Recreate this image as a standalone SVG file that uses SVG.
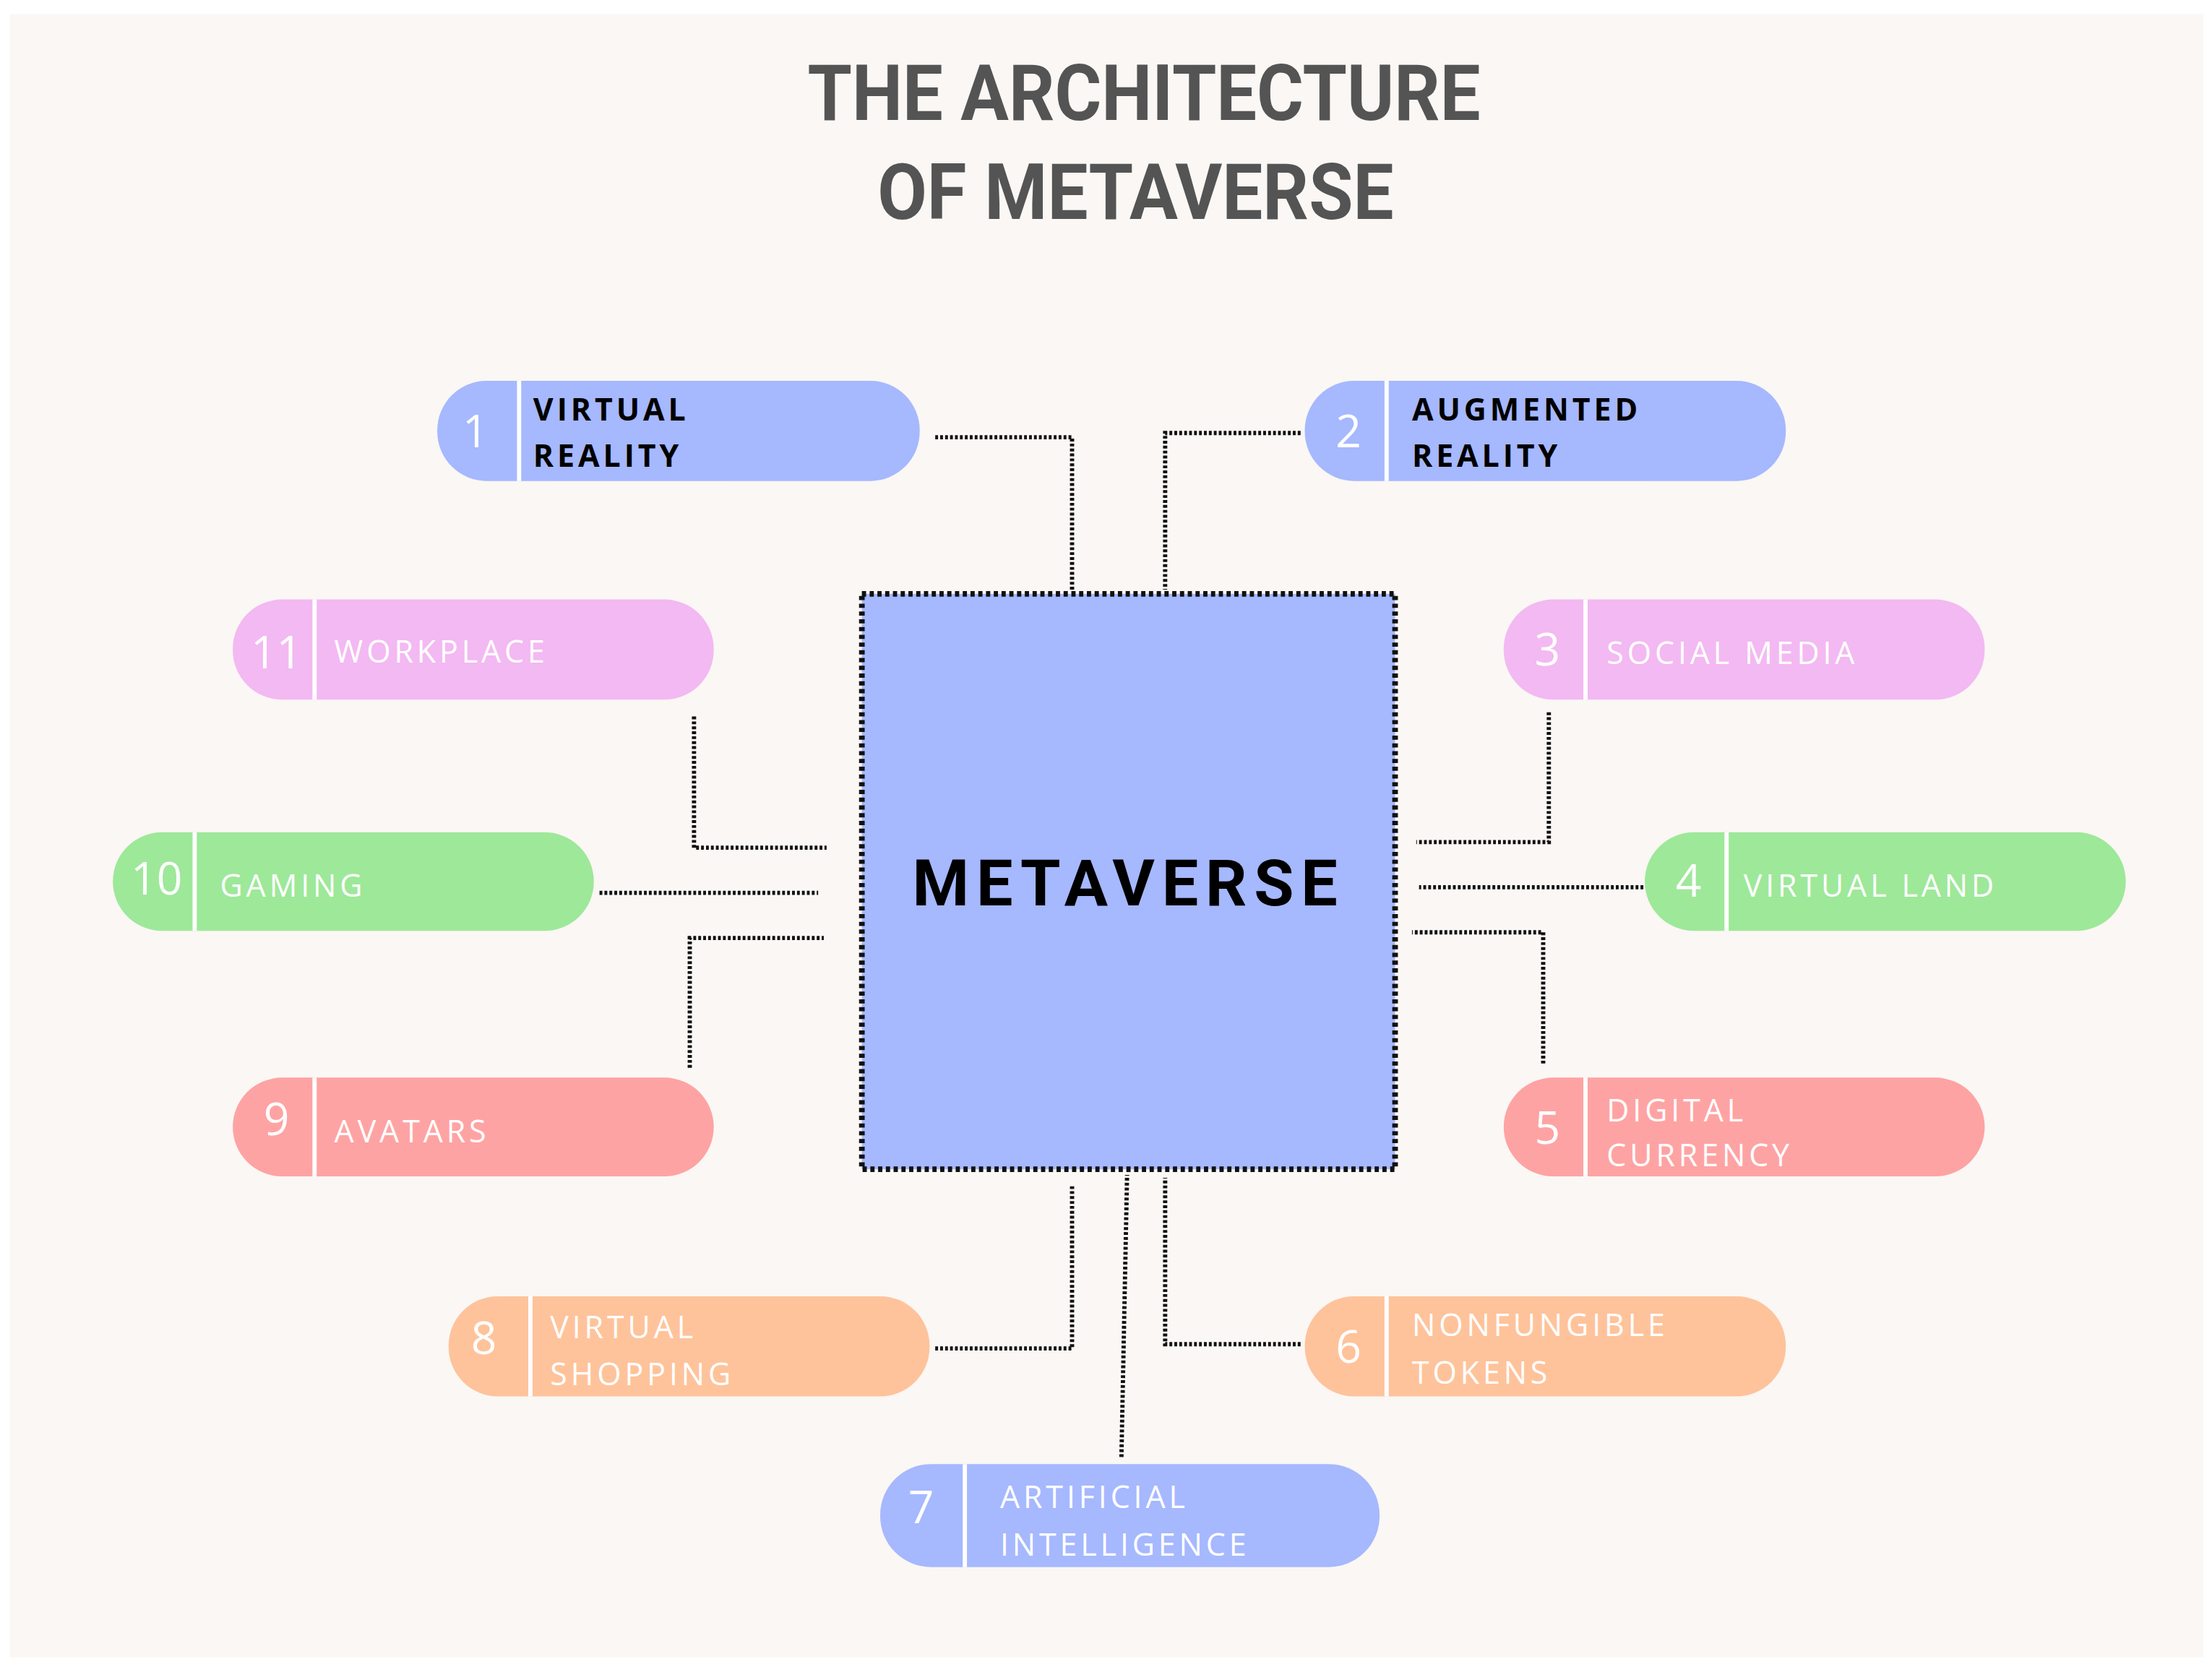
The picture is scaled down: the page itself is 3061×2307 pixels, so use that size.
<svg xmlns="http://www.w3.org/2000/svg" width="3061" height="2307" viewBox="0 0 3061 2307">
<style>
.t{font-family:Roboto,"Liberation Sans",sans-serif;font-weight:700;fill:#545454;font-size:55px;text-anchor:middle}
.lb{font-family:"Open Sans","Liberation Sans",sans-serif;font-size:22px;letter-spacing:2.5px;fill:#fff}
.lk{font-family:"Open Sans","Liberation Sans",sans-serif;font-size:22px;letter-spacing:2.5px;fill:#000;font-weight:700}
.n{font-family:"Open Sans","Liberation Sans",sans-serif;font-size:32px;fill:#fff;text-anchor:middle}
.dv{stroke:#fff;stroke-width:3}
.c{fill:none;stroke:#111;stroke-width:3;stroke-dasharray:2 1.5}
.blue{fill:#a6b8fe}.pink{fill:#f3b9f2}.green{fill:#9ee89a}.red{fill:#fea3a3}.orange{fill:#fec39b}
</style>
<rect width="3061" height="2307" fill="#fff"/>
<g transform="scale(1.952)">
<rect x="7" y="10" width="1555" height="1165" fill="#faf7f4"/>
<text class="t" x="811" y="85" textLength="477" lengthAdjust="spacingAndGlyphs">THE ARCHITECTURE</text>
<text class="t" x="805" y="155" textLength="366" lengthAdjust="spacingAndGlyphs">OF METAVERSE</text>
<g id="connectors">
<path class="c" d="M663 310H760V418"/>
<path class="c" d="M922 307H826V418"/>
<path class="c" d="M492 508V601H586"/>
<path class="c" d="M425 633H580"/>
<path class="c" d="M489 757V665H584"/>
<path class="c" d="M1098 505V597H1004"/>
<path class="c" d="M1165 629H1006"/>
<path class="c" d="M1094 754V661H1001"/>
<path class="c" d="M663 956H760V840"/>
<path class="c" d="M922 953H826V835"/>
<path class="c" d="M795 1033L799 833"/>
</g>
<g id="center">
<rect x="611" y="421" width="378" height="408" fill="#a6b8fe" stroke="#111" stroke-width="4" stroke-dasharray="3 2.5"/>
<text x="800" y="642" font-family="Roboto,'Liberation Sans',sans-serif" font-weight="700" font-size="46" letter-spacing="5" text-anchor="middle" fill="#000">METAVERSE</text>
</g>
<g id="n1"><rect class="blue" x="310" y="270" width="342" height="71" rx="35"/><line class="dv" x1="368" y1="270" x2="368" y2="341"/><text class="n" x="337" y="317">1</text><text class="lk" x="378" y="298">VIRTUAL</text><text class="lk" x="378" y="331">REALITY</text></g>
<g id="n2"><rect class="blue" x="925" y="270" width="341" height="71" rx="35"/><line class="dv" x1="983" y1="270" x2="983" y2="341"/><text class="n" x="956" y="317">2</text><text class="lk" x="1001" y="298">AUGMENTED</text><text class="lk" x="1001" y="331">REALITY</text></g>
<g id="n11"><rect class="pink" x="165" y="425" width="341" height="71" rx="35"/><line class="dv" x1="223" y1="425" x2="223" y2="496"/><text class="n" x="196" y="474">11</text><text class="lb" x="237" y="470">WORKPLACE</text></g>
<g id="n3"><rect class="pink" x="1066" y="425" width="341" height="71" rx="35"/><line class="dv" x1="1124" y1="425" x2="1124" y2="496"/><text class="n" x="1097" y="472">3</text><text class="lb" x="1139" y="471">SOCIAL MEDIA</text></g>
<g id="n10"><rect class="green" x="80" y="590" width="341" height="70" rx="35"/><line class="dv" x1="138" y1="590" x2="138" y2="660"/><text class="n" x="111" y="634">10</text><text class="lb" x="156" y="636">GAMING</text></g>
<g id="n4"><rect class="green" x="1166" y="590" width="341" height="70" rx="35"/><line class="dv" x1="1224" y1="590" x2="1224" y2="660"/><text class="n" x="1197" y="636">4</text><text class="lb" x="1236" y="636">VIRTUAL LAND</text></g>
<g id="n9"><rect class="red" x="165" y="764" width="341" height="70" rx="35"/><line class="dv" x1="223" y1="764" x2="223" y2="834"/><text class="n" x="196" y="805">9</text><text class="lb" x="237" y="810">AVATARS</text></g>
<g id="n5"><rect class="red" x="1066" y="764" width="341" height="70" rx="35"/><line class="dv" x1="1124" y1="764" x2="1124" y2="834"/><text class="n" x="1097" y="811">5</text><text class="lb" x="1139" y="795">DIGITAL</text><text class="lb" x="1139" y="827">CURRENCY</text></g>
<g id="n8"><rect class="orange" x="318" y="919" width="341" height="71" rx="35"/><line class="dv" x1="376" y1="919" x2="376" y2="990"/><text class="n" x="343" y="960">8</text><text class="lb" x="390" y="949">VIRTUAL</text><text class="lb" x="390" y="982">SHOPPING</text></g>
<g id="n6"><rect class="orange" x="925" y="919" width="341" height="71" rx="35"/><line class="dv" x1="983" y1="919" x2="983" y2="990"/><text class="n" x="956" y="966">6</text><text class="lb" x="1001" y="947">NONFUNGIBLE</text><text class="lb" x="1001" y="981">TOKENS</text></g>
<g id="n7"><rect class="blue" x="624" y="1038" width="354" height="73" rx="36"/><line class="dv" x1="684" y1="1038" x2="684" y2="1111"/><text class="n" x="653" y="1080">7</text><text class="lb" x="709" y="1069">ARTIFICIAL</text><text class="lb" x="709" y="1103">INTELLIGENCE</text></g>
</g>
</svg>
